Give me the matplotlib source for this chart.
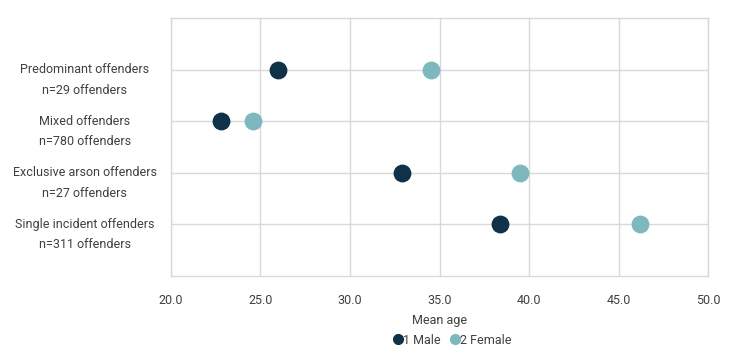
import matplotlib
matplotlib.use("Agg")
import matplotlib.pyplot as plt
import matplotlib.transforms as mtransforms
from matplotlib.lines import Line2D

plt.rcParams["font.family"] = ["Roboto", "DejaVu Sans"]

categories = [
    "Predominant offenders\nn=29 offenders",
    "Mixed offenders\nn=780 offenders",
    "Exclusive arson offenders\nn=27 offenders",
    "Single incident offenders\nn=311 offenders",
]
male_age = [26.0, 22.8, 32.9, 38.4]
female_age = [34.5, 24.6, 39.5, 46.2]
x_ticks = [20, 25, 30, 35, 40, 45, 50]

MALE = "#0f3249"
FEMALE = "#7db8bf"
GRID = "#d9d9d9"
TEXT = "#404040"

fig = plt.figure(figsize=(7.34, 3.6), dpi=100)
ax = fig.add_axes([170.7 / 734, 1 - 275.7 / 360, (708.3 - 170.7) / 734, (275.7 - 18.3) / 360])

ypos = list(range(1, len(categories) + 1))
ax.scatter(male_age, ypos, s=165, color=MALE, zorder=3, linewidths=0)
ax.scatter(female_age, ypos, s=165, color=FEMALE, zorder=3, linewidths=0)

ax.set_xlim(20, 50)
ax.set_ylim(len(categories) + 1, 0)
ax.set_xticks(x_ticks)
ax.set_xticklabels([f"{v:.1f}" for v in x_ticks])
ax.set_yticks(ypos)
ax.set_yticklabels(categories)

ax.grid(True, color=GRID, linewidth=1)
ax.set_axisbelow(True)
for s in ax.spines.values():
    s.set_color(GRID)
    s.set_linewidth(1)
ax.tick_params(length=0, labelsize=9, colors=TEXT)
ax.tick_params(axis="x", pad=13)
ax.tick_params(axis="y", pad=62)

# centred two-line category labels, sitting slightly below their gridline
shift = mtransforms.ScaledTranslation(0, -5 / 100, fig.dpi_scale_trans)
for lab in ax.get_yticklabels():
    lab.set_horizontalalignment("center")
    lab.set_multialignment("center")
    lab.set_linespacing(1.75)
    lab.set_transform(lab.get_transform() + shift)

ax.set_xlabel("Mean age", fontsize=9, color=TEXT, labelpad=5)

handles = [
    Line2D([], [], marker="o", linestyle="", markersize=7, color=MALE, label="1 Male"),
    Line2D([], [], marker="o", linestyle="", markersize=7, color=FEMALE, label="2 Female"),
]
fig.legend(handles=handles, loc="center", bbox_to_anchor=(451 / 734, 1 - 340 / 360),
           ncol=2, frameon=False, fontsize=9, handletextpad=-0.2, columnspacing=0.6,
           handlelength=1.2, labelcolor=TEXT)

fig.savefig("out.png", dpi=100)
